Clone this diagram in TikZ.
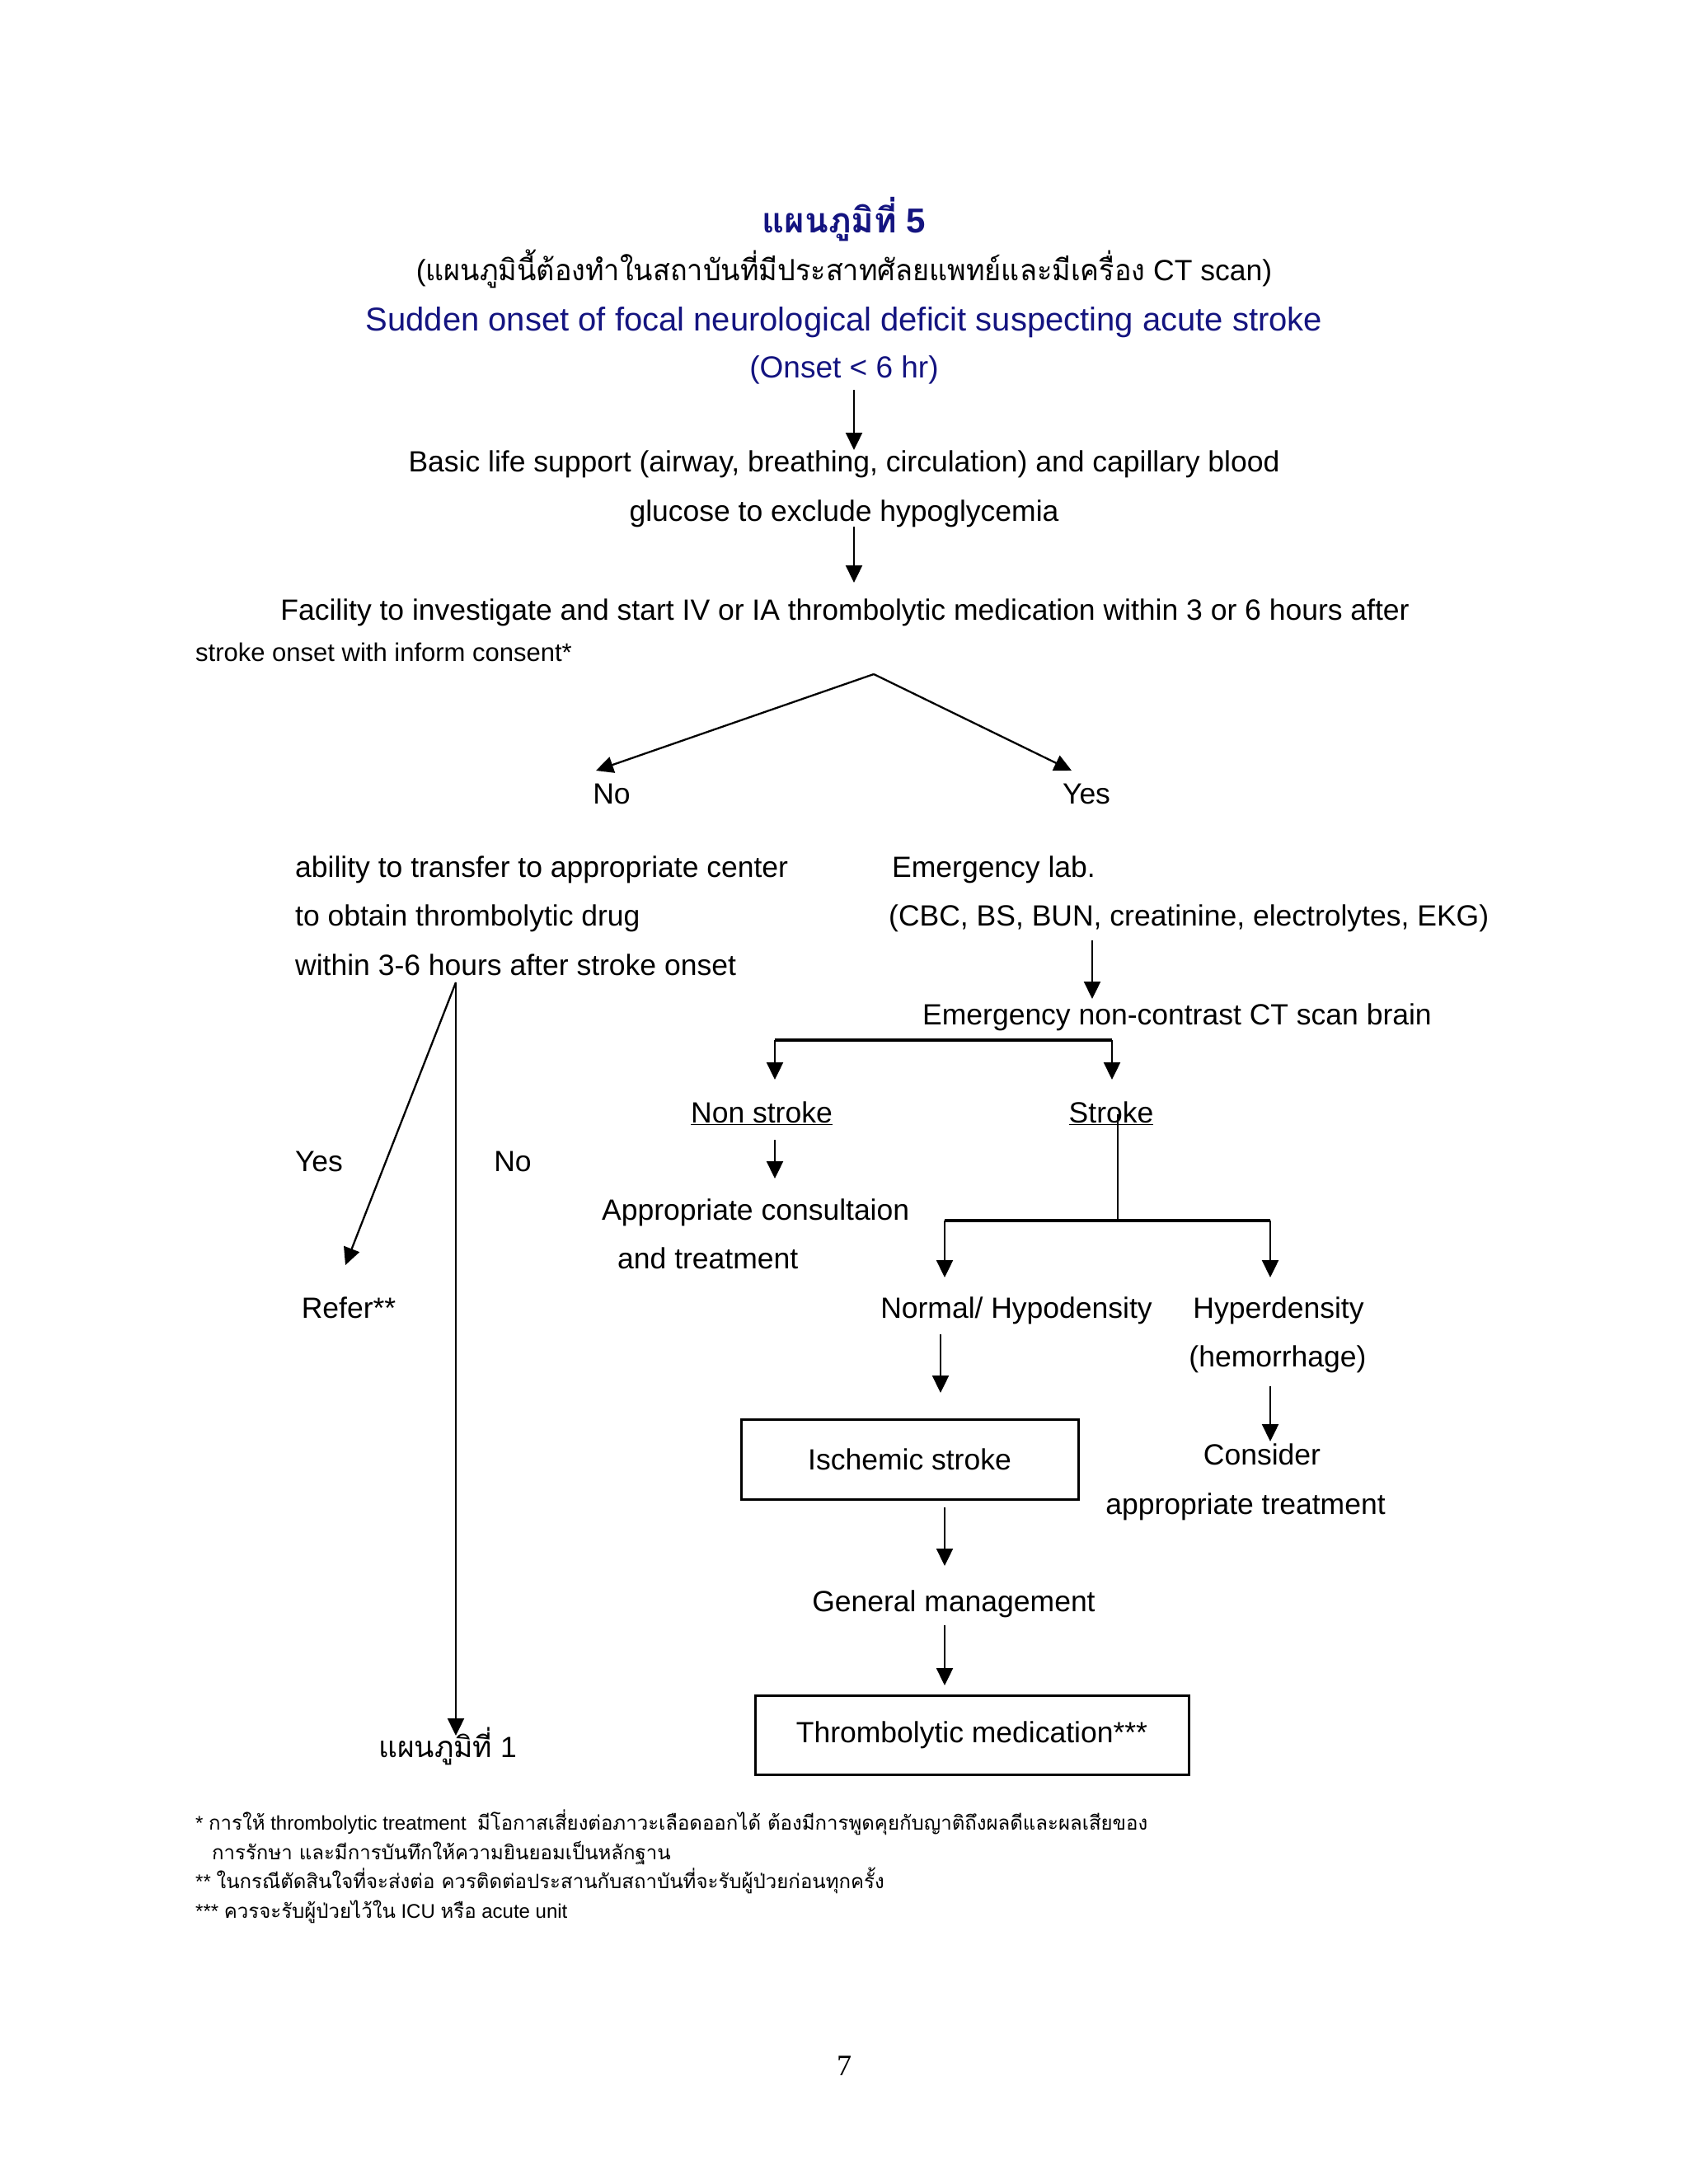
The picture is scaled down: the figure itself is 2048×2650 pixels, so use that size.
\documentclass[tikz,border=0pt]{standalone}
\usepackage{fontspec}
\setmainfont{Liberation Sans}
\newfontfamily\thaifont[Script=Thai]{Loma}
\newfontfamily\pgserif{Liberation Serif}
\usetikzlibrary{arrows.meta}
\definecolor{navy}{RGB}{20,20,128}
\tikzset{
  txt/.style={inner sep=0pt, anchor=base, font=\fontsize{35.5}{42}\selectfont},
  ltxt/.style={txt, anchor=base west},
  smalltxt/.style={inner sep=0pt, anchor=base west, font=\fontsize{31}{36}\selectfont},
  foot/.style={inner sep=0pt, anchor=base west, font=\fontsize{24}{28}\selectfont},
  bluetxt/.style={txt, text=navy, font=\fontsize{40}{48}\selectfont},
  arr/.style={-{Triangle[length=21pt,width=20pt]}, line width=2.3pt},
  ln/.style={line width=2.3pt},
  barln/.style={line width=3.6pt},
  boxnode/.style={draw, line width=3pt, inner sep=0pt, font=\fontsize{35.5}{42}\selectfont}
}
\begin{document}
\begin{tikzpicture}[x=1pt,y=-1pt]
\useasboundingbox (0,0) rectangle (2048,2650);
\fill[white] (0,0) rectangle (2048,2650);

% header
\node[bluetxt, font=\fontsize{42}{48}\selectfont\bfseries] (title) at (1024,282) {{\thaifont\bfseries แผนภูมิที่} 5};
\node[txt] (subtitle) at (1024,340) {(\scalebox{0.965}[1]{\thaifont แผนภูมินี้ต้องทำในสถาบันที่มีประสาทศัลยแพทย์และมีเครื่อง} CT scan)};
\node[bluetxt] (sudden) at (1024,401) {Sudden onset of focal neurological deficit suspecting acute stroke};
\node[bluetxt, font=\fontsize{37}{44}\selectfont] (onset) at (1024,458) {(Onset < 6 hr)};

\node[txt] (basic1) at (1024,572) {Basic life support (airway, breathing, circulation) and capillary blood};
\node[txt] (basic2) at (1024,632) {glucose to exclude hypoglycemia};
\node[txt] (fac1) at (1025,752) {Facility to investigate and start IV or IA thrombolytic medication within 3 or 6 hours after};
\node[smalltxt] (fac2) at (237,802) {stroke onset with inform consent*};

\node[txt] (no1) at (742,975) {No};
\node[txt] (yes1) at (1318,975) {Yes};

% left branch
\node[ltxt] (abil1) at (358,1064) {ability to transfer to appropriate center};
\node[ltxt] (abil2) at (358,1123) {to obtain thrombolytic drug};
\node[ltxt] (abil3) at (358,1183) {within 3-6 hours after stroke onset};
\node[txt] (yes2) at (387,1421) {Yes};
\node[txt] (no2) at (622,1421) {No};
\node[txt] (refer) at (423,1599) {Refer**};
\node[txt] (chart1) at (543,2132) {{\thaifont แผนภูมิที่} 1};

% right branch
\node[ltxt] (lab1) at (1082,1064) {Emergency lab.};
\node[ltxt] (lab2) at (1078,1123) {(CBC, BS, BUN, creatinine, electrolytes, EKG)};
\node[txt] (ct) at (1428,1243) {Emergency non-contrast CT scan brain};
\node[txt] (nonstroke) at (924,1362) {\underline{Non stroke}};
\node[txt] (stroke) at (1348,1362) {\underline{Stroke}};
\node[ltxt] (approp1) at (730,1480) {Appropriate consultaion};
\node[ltxt] (approp2) at (749,1539) {and treatment};
\node[txt] (normal) at (1233,1599) {Normal/ Hypodensity};
\node[txt] (hyper1) at (1551,1599) {Hyperdensity};
\node[txt] (hyper2) at (1550,1658) {(hemorrhage)};
\node[boxnode, minimum width=409pt, minimum height=97pt] (isch) at (1103.5,1770.5) {Ischemic stroke};
\node[txt] (cons1) at (1531,1777) {Consider};
\node[txt] (cons2) at (1511,1837) {appropriate treatment};
\node[txt] (general) at (1157,1955) {General management};
\node[boxnode, minimum width=526pt, minimum height=96pt] (thromb) at (1179,2105) {Thrombolytic medication***};

% footnotes
\node[foot] (fn1) at (237,2220) {* {\thaifont การให้} thrombolytic treatment\ \ {\thaifont มีโอกาสเสี่ยงต่อภาวะเลือดออกได้ ต้องมีการพูดคุยกับญาติถึงผลดีและผลเสียของ}};
\node[foot] (fn2) at (257,2256) {{\thaifont การรักษา และมีการบันทึกให้ความยินยอมเป็นหลักฐาน}};
\node[foot] (fn3) at (237,2291) {** {\thaifont ในกรณีตัดสินใจที่จะส่งต่อ ควรติดต่อประสานกับสถาบันที่จะรับผู้ป่วยก่อนทุกครั้ง}};
\node[foot] (fn4) at (237,2327) {*** {\thaifont ควรจะรับผู้ป่วยไว้ใน} ICU {\thaifont หรือ} acute unit};
\node[inner sep=0pt, anchor=base, font=\pgserif\fontsize{36}{40}\selectfont] (pagenum) at (1024,2518) {7};

% connector coordinates
\coordinate (c1s) at (1036,473);  \coordinate (c1e) at (1036,546);
\coordinate (c2s) at (1036,639);  \coordinate (c2e) at (1036,707);
\coordinate (apex) at (1060,818);
\coordinate (tipno) at (723,935); \coordinate (tipyes) at (1300,935);
\coordinate (labs) at (1325,1141); \coordinate (labe) at (1325,1212);
\coordinate (ctl) at (940,1262); \coordinate (ctr) at (1349,1262);
\coordinate (ctle) at (940,1310); \coordinate (ctre) at (1349,1310);
\coordinate (nss) at (940,1383); \coordinate (nse) at (940,1430);
\coordinate (sts) at (1356,1352); \coordinate (stb) at (1356,1481);
\coordinate (sbl) at (1146,1481); \coordinate (sbr) at (1541,1481);
\coordinate (sble) at (1146,1550); \coordinate (sbre) at (1541,1550);
\coordinate (nms) at (1141,1619); \coordinate (nme) at (1141,1690);
\coordinate (hms) at (1541,1682); \coordinate (hme) at (1541,1749);
\coordinate (iss) at (1146,1829); \coordinate (ise) at (1146,1900);
\coordinate (gms) at (1146,1972); \coordinate (gme) at (1146,2045);
\coordinate (lapex) at (553,1192);
\coordinate (lref) at (419,1535); \coordinate (lch) at (553,2106);

% connectors
\draw[arr] (c1s) -- (c1e);
\draw[arr] (c2s) -- (c2e);
\draw[arr] (apex) -- (tipno);
\draw[arr] (apex) -- (tipyes);
\draw[arr] (labs) -- (labe);
\draw[barln] (ctl) -- (ctr);
\draw[arr] (ctl) -- (ctle);
\draw[arr] (ctr) -- (ctre);
\draw[arr] (nss) -- (nse);
\draw[ln] (sts) -- (stb);
\draw[barln] (sbl) -- (sbr);
\draw[arr] (sbl) -- (sble);
\draw[arr] (sbr) -- (sbre);
\draw[arr] (nms) -- (nme);
\draw[arr] (hms) -- (hme);
\draw[arr] (iss) -- (ise);
\draw[arr] (gms) -- (gme);
\draw[arr] (lapex) -- (lref);
\draw[arr] (lapex) -- (lch);
\end{tikzpicture}
\end{document}
